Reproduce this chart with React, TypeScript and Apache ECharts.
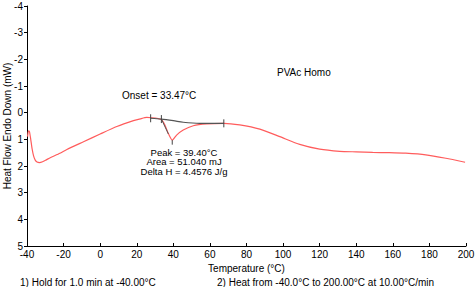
import React, { useEffect, useRef } from "react";
import * as echarts from "echarts";

const curveT = [-39.7, -39.2, -38.7, -38.0, -37.2, -36.4, -35.5, -34.5, -33.2, -31.5, -29.5, -27.3, -22, -18.2, -9.1, 0, 9.1, 18.2, 22, 25.5, 28, 31, 33.6, 35.4, 37.2, 39.4, 41.8, 45.4, 50.9, 58.2, 67.6, 76.3, 87.3, 98.2, 109.1, 120, 131, 140, 149, 158, 167, 178, 189, 199.5];
const curveV = [0.9, 0.68, 0.7, 0.98, 1.36, 1.62, 1.78, 1.85, 1.87, 1.84, 1.77, 1.69, 1.52, 1.38, 1.09, 0.8, 0.52, 0.3, 0.23, 0.18, 0.19, 0.21, 0.26, 0.46, 0.77, 1.03, 0.84, 0.65, 0.49, 0.42, 0.4, 0.46, 0.62, 0.9, 1.19, 1.37, 1.45, 1.47, 1.49, 1.5, 1.52, 1.58, 1.71, 1.86];

const baseT = [27.6, 33.47, 40, 45.4, 54.5, 67.6];
const baseV = [0.21, 0.24, 0.3, 0.36, 0.4, 0.4];

const tangentT = [33.47, 37.3];
const tangentV = [0.24, 0.8];

const markerT = [27.6, 33.47, 67.6];
const markerV = [0.21, 0.24, 0.4];
const peakT = 39.4;
const peakV = 1.03;

const xTicks = [-40, -20, 0, 20, 40, 60, 80, 100, 120, 140, 160, 180, 200];
const yTicks = [-4, -3, -2, -1, 0, 1, 2, 3, 4, 5];

const FONT = "'Liberation Sans', Arial, sans-serif";

export default function App() {
  const ref = useRef<HTMLDivElement>(null);
  useEffect(() => {
    if (!ref.current) return;
    const chart = echarts.init(ref.current, undefined, { renderer: "svg" });
    const pair = (ts: number[], vs: number[]) => ts.map((t, i) => [t, vs[i]]);
    const tickSeries = markerT.map((t, i) => ({
      type: "line",
      data: [[t, markerV[i] - 0.15], [t, markerV[i] + 0.15]],
      symbol: "none",
      lineStyle: { color: "#444", width: 1 },
      z: 4,
    }));
    chart.setOption({
      animation: false,
      textStyle: { fontFamily: FONT },
      grid: { left: 27, right: 10, top: 6, bottom: 41, containLabel: false, outerBoundsMode: "none" },
      xAxis: {
        type: "value",
        min: xTicks[0],
        max: xTicks[xTicks.length - 1],
        interval: 20,
        name: "Temperature (°C)",
        nameLocation: "middle",
        nameGap: 17,
        nameMoveOverlap: false,
        nameTextStyle: { fontSize: 10, color: "#000", fontFamily: FONT },
        axisLine: { onZero: false, lineStyle: { color: "#000", width: 1 } },
        axisTick: { inside: true, length: 3, lineStyle: { color: "#000" } },
        axisLabel: { fontSize: 10, color: "#000", margin: 3, fontFamily: FONT },
        splitLine: { show: false },
      },
      yAxis: {
        type: "value",
        inverse: true,
        min: yTicks[0],
        max: yTicks[yTicks.length - 1],
        interval: 1,
        name: "Heat Flow Endo Down (mW)",
        nameLocation: "middle",
        nameGap: 15,
        nameMoveOverlap: false,
        nameTextStyle: { fontSize: 10, color: "#000", fontFamily: FONT },
        axisLine: { show: true, onZero: false, lineStyle: { color: "#000", width: 1 } },
        axisTick: { show: true, inside: false, length: 3, lineStyle: { color: "#000" } },
        axisLabel: { fontSize: 10, color: "#000", margin: 4, fontFamily: FONT },
        splitLine: { show: false },
      },
      series: [
        {
          type: "line",
          data: pair(curveT, curveV),
          symbol: "none",
          smooth: 0.2,
          lineStyle: { color: "#ff5c5c", width: 1.2 },
          z: 2,
        },
        {
          type: "line",
          data: pair(baseT, baseV),
          symbol: "none",
          smooth: 0.3,
          lineStyle: { color: "#555", width: 1.2 },
          z: 3,
        },
        {
          type: "line",
          data: pair(tangentT, tangentV),
          symbol: "none",
          lineStyle: { color: "#555", width: 1 },
          z: 3,
        },
        {
          type: "line",
          data: [[peakT, peakV], [peakT, peakV + 0.17]],
          symbol: "none",
          lineStyle: { color: "#444", width: 1 },
          z: 4,
        },
        ...tickSeries,
      ],
      graphic: [
        { type: "text", left: 277, top: 67, style: { text: "PVAc Homo", fontSize: 10, fill: "#000", fontFamily: FONT } },
        { type: "text", left: 122, top: 90, style: { text: "Onset = 33.47°C", fontSize: 10, fill: "#000", fontFamily: FONT } },
        {
          type: "text",
          x: 184,
          y: 147.5,
          style: {
            text: "Peak = 39.40°C\nArea = 51.040 mJ\nDelta H = 4.4576 J/g",
            fontSize: 9.5,
            lineHeight: 9.5,
            align: "center",
            verticalAlign: "top",
            fill: "#000",
            fontFamily: FONT,
          },
        },
        { type: "text", left: 20, top: 277, style: { text: "1) Hold for 1.0 min at -40.00°C", fontSize: 10, fill: "#000", fontFamily: FONT } },
        { type: "text", left: 217, top: 277, style: { text: "2) Heat from -40.0°C to 200.00°C at 10.00°C/min", fontSize: 10, fill: "#000", fontFamily: FONT } },
      ],
    });
    return () => chart.dispose();
  }, []);
  return <div ref={ref} style={{ position: "fixed", left: 0, top: 0, width: 476, height: 287, background: "#fff" }} />;
}
